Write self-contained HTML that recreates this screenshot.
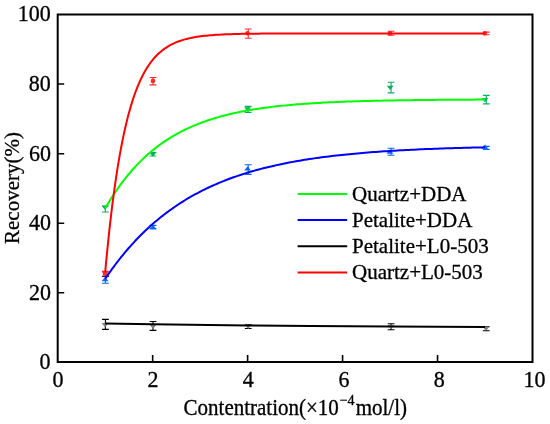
<!DOCTYPE html>
<html><head><meta charset="utf-8"><style>
html,body{margin:0;padding:0;background:#fff;}
body{width:550px;height:424px;overflow:hidden;}
svg{display:block;}
text{font-family:"Liberation Serif","Times New Roman",serif;fill:#000;stroke:#000;stroke-width:0.3px;}
</style></head><body>
<svg width="550" height="424" viewBox="0 0 550 424">
<g><path d="M105.40,319.40V329.40M102.00,319.40H108.80M102.00,329.40H108.80" stroke="#000" stroke-width="1.1" fill="none"/><polygon points="101.70,323.10 108.50,323.10 105.10,327.40" fill="#808080"/><path d="M153.01,321.50V330.40M149.61,321.50H156.41M149.61,330.40H156.41" stroke="#000" stroke-width="1.1" fill="none"/><polygon points="149.60,324.70 156.40,324.70 153.00,329.00" fill="#808080"/><path d="M248.23,324.60V328.50M244.83,324.60H251.63M244.83,328.50H251.63" stroke="#000" stroke-width="1.1" fill="none"/><polygon points="244.80,324.60 251.60,324.60 248.20,328.90" fill="#808080"/><path d="M391.06,323.80V329.70M387.66,323.80H394.46M387.66,329.70H394.46" stroke="#000" stroke-width="1.1" fill="none"/><polygon points="387.60,324.90 394.40,324.90 391.00,329.20" fill="#808080"/><path d="M486.28,326.70V330.70M482.88,326.70H489.68M482.88,330.70H489.68" stroke="#000" stroke-width="1.1" fill="none"/><polygon points="482.60,326.70 489.40,326.70 486.00,331.00" fill="#808080"/><path d="M105.40,276.40V283.20M102.00,276.40H108.80M102.00,283.20H108.80" stroke="#0a66e6" stroke-width="1.1" fill="none"/><polygon points="101.70,281.30 108.50,281.30 105.10,277.00" fill="#0a66e6"/><path d="M153.01,225.40V228.90M149.61,225.40H156.41M149.61,228.90H156.41" stroke="#0a66e6" stroke-width="1.1" fill="none"/><polygon points="149.60,229.10 156.40,229.10 153.00,224.80" fill="#0a66e6"/><path d="M248.23,164.80V174.40M244.83,164.80H251.63M244.83,174.40H251.63" stroke="#0a66e6" stroke-width="1.1" fill="none"/><polygon points="244.20,170.50 251.00,170.50 247.60,166.20" fill="#0a66e6"/><path d="M391.06,148.30V155.30M387.66,148.30H394.46M387.66,155.30H394.46" stroke="#0a66e6" stroke-width="1.1" fill="none"/><polygon points="386.60,153.70 393.40,153.70 390.00,149.40" fill="#0a66e6"/><path d="M486.28,146.40V149.40M482.88,146.40H489.68M482.88,149.40H489.68" stroke="#0a66e6" stroke-width="1.1" fill="none"/><polygon points="481.60,148.70 488.40,148.70 485.00,144.40" fill="#0a66e6"/><path d="M105.40,206.00V212.00M102.00,206.00H108.80M102.00,212.00H108.80" stroke="#0aae5e" stroke-width="1.1" fill="none"/><polygon points="101.60,205.70 108.40,205.70 105.00,210.00" fill="#0aae5e"/><path d="M153.01,152.50V156.00M149.61,152.50H156.41M149.61,156.00H156.41" stroke="#0aae5e" stroke-width="1.1" fill="none"/><polygon points="149.50,152.50 156.30,152.50 152.90,156.80" fill="#0aae5e"/><path d="M248.23,106.40V112.50M244.83,106.40H251.63M244.83,112.50H251.63" stroke="#0aae5e" stroke-width="1.1" fill="none"/><polygon points="244.20,107.30 251.00,107.30 247.60,111.60" fill="#0aae5e"/><path d="M391.06,82.30V92.90M387.66,82.30H394.46M387.66,92.90H394.46" stroke="#0aae5e" stroke-width="1.1" fill="none"/><polygon points="386.80,85.70 393.60,85.70 390.20,90.00" fill="#0aae5e"/><path d="M486.28,95.40V103.90M482.88,95.40H489.68M482.88,103.90H489.68" stroke="#0aae5e" stroke-width="1.1" fill="none"/><polygon points="481.60,97.90 488.40,97.90 485.00,102.20" fill="#0aae5e"/><path d="M105.40,271.20V276.40M102.00,271.20H108.80M102.00,276.40H108.80" stroke="#ff2a2a" stroke-width="1.1" fill="none"/><circle cx="105.10" cy="273.40" r="2.3" fill="#ff2a2a"/><path d="M153.01,77.50V84.90M149.61,77.50H156.41M149.61,84.90H156.41" stroke="#ff2a2a" stroke-width="1.1" fill="none"/><circle cx="153.00" cy="80.90" r="2.3" fill="#ff2a2a"/><path d="M248.23,29.00V38.20M244.83,29.00H251.63M244.83,38.20H251.63" stroke="#ff2a2a" stroke-width="1.1" fill="none"/><circle cx="247.50" cy="33.20" r="2.3" fill="#ff2a2a"/><path d="M391.06,31.20V35.20M387.66,31.20H394.46M387.66,35.20H394.46" stroke="#ff2a2a" stroke-width="1.1" fill="none"/><circle cx="389.80" cy="33.30" r="2.3" fill="#ff2a2a"/><path d="M486.28,32.10V34.70M482.88,32.10H489.68M482.88,34.70H489.68" stroke="#ff2a2a" stroke-width="1.1" fill="none"/><circle cx="484.80" cy="33.30" r="2.3" fill="#ff2a2a"/><polygon points="101.6,271.0 108.8,271.0 106.6,275.0 103.6,275.0" fill="#ff2a2a"/><path d="M101.9,276.4H108.9" stroke="#3a1a70" stroke-width="1.2"/><polyline points="105.2,323.6 152.7,324.35 190,324.85 248,325.4 310,325.9 390,326.5 485,326.9" fill="none" stroke="#000000" stroke-width="2" stroke-linejoin="round"/><polyline points="105.20,278.84 105.28,278.72 105.44,278.48 105.66,278.16 105.93,277.76 106.25,277.30 106.60,276.78 106.99,276.20 107.42,275.58 107.88,274.91 108.37,274.21 108.90,273.46 109.45,272.67 110.03,271.85 110.63,271.00 111.27,270.11 111.93,269.20 112.61,268.25 113.33,267.29 114.06,266.29 114.82,265.27 115.60,264.24 116.40,263.18 117.23,262.10 118.07,261.00 118.94,259.88 119.83,258.75 120.74,257.61 121.68,256.45 122.63,255.28 123.60,254.09 124.59,252.90 125.60,251.69 126.63,250.48 127.68,249.26 128.75,248.03 129.83,246.80 130.93,245.56 132.06,244.31 133.20,243.06 134.35,241.81 135.53,240.55 136.72,239.30 137.93,238.04 139.16,236.78 140.40,235.52 141.66,234.27 142.94,233.01 144.23,231.76 145.54,230.51 146.86,229.26 148.20,228.01 149.56,226.77 150.93,225.54 152.32,224.30 153.73,223.08 155.14,221.86 156.58,220.65 158.03,219.44 159.49,218.24 160.97,217.05 162.47,215.86 163.98,214.69 165.50,213.52 167.04,212.36 168.59,211.21 170.16,210.07 171.74,208.94 173.34,207.82 174.95,206.71 176.58,205.61 178.21,204.52 179.87,203.44 181.53,202.37 183.21,201.31 184.91,200.26 186.61,199.23 188.33,198.21 190.07,197.20 191.82,196.20 193.58,195.21 195.35,194.23 197.14,193.27 198.94,192.32 200.75,191.38 202.58,190.45 204.42,189.54 206.27,188.63 208.13,187.74 210.01,186.86 211.90,186.00 213.81,185.15 215.72,184.31 217.65,183.48 219.59,182.66 221.55,181.86 223.51,181.07 225.49,180.29 227.48,179.52 229.48,178.77 231.50,178.03 233.52,177.30 235.56,176.58 237.61,175.88 239.68,175.18 241.75,174.50 243.84,173.83 245.94,173.17 248.05,172.53 250.17,171.89 252.30,171.27 254.45,170.66 256.60,170.06 258.77,169.47 260.95,168.89 263.15,168.32 265.35,167.77 267.56,167.22 269.79,166.68 272.03,166.16 274.28,165.65 276.54,165.14 278.81,164.65 281.09,164.16 283.38,163.69 285.69,163.22 288.00,162.77 290.33,162.32 292.67,161.89 295.02,161.46 297.38,161.04 299.75,160.64 302.13,160.24 304.52,159.85 306.92,159.46 309.34,159.09 311.76,158.72 314.20,158.37 316.64,158.02 319.10,157.68 321.57,157.34 324.05,157.02 326.54,156.70 329.03,156.39 331.54,156.08 334.06,155.79 336.60,155.50 339.14,155.21 341.69,154.94 344.25,154.67 346.82,154.41 349.40,154.15 352.00,153.90 354.60,153.66 357.21,153.42 359.84,153.19 362.47,152.96 365.11,152.74 367.77,152.53 370.43,152.32 373.11,152.11 375.79,151.92 378.48,151.72 381.19,151.53 383.90,151.35 386.63,151.17 389.36,151.00 392.10,150.83 394.86,150.66 397.62,150.50 400.39,150.35 403.18,150.20 405.97,150.05 408.77,149.91 411.59,149.77 414.41,149.63 417.24,149.50 420.08,149.37 422.93,149.24 425.79,149.12 428.66,149.01 431.54,148.89 434.43,148.78 437.33,148.67 440.24,148.57 443.16,148.46 446.09,148.37 449.02,148.27 451.97,148.18 454.93,148.09 457.89,148.00 460.87,147.91 463.85,147.83 466.84,147.75 469.85,147.67 472.86,147.60 475.88,147.52 478.91,147.45 481.95,147.38 485.00,147.32" fill="none" stroke="#0000ff" stroke-width="2" stroke-linejoin="round"/><polyline points="105.20,208.38 105.28,208.24 105.44,207.96 105.66,207.58 105.93,207.11 106.25,206.57 106.60,205.96 106.99,205.30 107.42,204.58 107.88,203.80 108.37,202.98 108.90,202.12 109.45,201.21 110.03,200.27 110.63,199.29 111.27,198.28 111.93,197.24 112.61,196.18 113.33,195.08 114.06,193.96 114.82,192.82 115.60,191.66 116.40,190.48 117.23,189.28 118.07,188.07 118.94,186.84 119.83,185.61 120.74,184.36 121.68,183.10 122.63,181.83 123.60,180.56 124.59,179.28 125.60,178.00 126.63,176.71 127.68,175.42 128.75,174.13 129.83,172.85 130.93,171.56 132.06,170.27 133.20,168.99 134.35,167.71 135.53,166.44 136.72,165.17 137.93,163.91 139.16,162.65 140.40,161.40 141.66,160.16 142.94,158.93 144.23,157.71 145.54,156.50 146.86,155.30 148.20,154.11 149.56,152.93 150.93,151.77 152.32,150.62 153.73,149.48 155.14,148.35 156.58,147.24 158.03,146.14 159.49,145.05 160.97,143.98 162.47,142.93 163.98,141.88 165.50,140.86 167.04,139.85 168.59,138.85 170.16,137.87 171.74,136.91 173.34,135.96 174.95,135.03 176.58,134.11 178.21,133.21 179.87,132.33 181.53,131.46 183.21,130.61 184.91,129.77 186.61,128.95 188.33,128.14 190.07,127.36 191.82,126.58 193.58,125.82 195.35,125.08 197.14,124.36 198.94,123.65 200.75,122.95 202.58,122.27 204.42,121.60 206.27,120.95 208.13,120.32 210.01,119.69 211.90,119.09 213.81,118.49 215.72,117.92 217.65,117.35 219.59,116.80 221.55,116.26 223.51,115.74 225.49,115.23 227.48,114.73 229.48,114.24 231.50,113.77 233.52,113.31 235.56,112.86 237.61,112.42 239.68,112.00 241.75,111.58 243.84,111.18 245.94,110.79 248.05,110.41 250.17,110.04 252.30,109.68 254.45,109.33 256.60,108.99 258.77,108.66 260.95,108.34 263.15,108.03 265.35,107.73 267.56,107.44 269.79,107.15 272.03,106.88 274.28,106.61 276.54,106.35 278.81,106.10 281.09,105.86 283.38,105.62 285.69,105.39 288.00,105.17 290.33,104.96 292.67,104.75 295.02,104.55 297.38,104.36 299.75,104.17 302.13,103.99 304.52,103.82 306.92,103.65 309.34,103.48 311.76,103.33 314.20,103.17 316.64,103.03 319.10,102.88 321.57,102.75 324.05,102.61 326.54,102.48 329.03,102.36 331.54,102.24 334.06,102.13 336.60,102.02 339.14,101.91 341.69,101.81 344.25,101.71 346.82,101.61 349.40,101.52 352.00,101.43 354.60,101.34 357.21,101.26 359.84,101.18 362.47,101.11 365.11,101.03 367.77,100.96 370.43,100.89 373.11,100.83 375.79,100.76 378.48,100.70 381.19,100.65 383.90,100.59 386.63,100.54 389.36,100.48 392.10,100.44 394.86,100.39 397.62,100.34 400.39,100.30 403.18,100.26 405.97,100.22 408.77,100.18 411.59,100.14 414.41,100.10 417.24,100.07 420.08,100.04 422.93,100.01 425.79,99.98 428.66,99.95 431.54,99.92 434.43,99.89 437.33,99.87 440.24,99.84 443.16,99.82 446.09,99.80 449.02,99.78 451.97,99.76 454.93,99.74 457.89,99.72 460.87,99.70 463.85,99.68 466.84,99.67 469.85,99.65 472.86,99.63 475.88,99.62 478.91,99.61 481.95,99.59 485.00,99.58" fill="none" stroke="#00ff00" stroke-width="2" stroke-linejoin="round"/><polyline points="105.20,272.16 105.28,271.28 105.44,269.50 105.66,267.10 105.93,264.19 106.25,260.86 106.60,257.15 106.99,253.13 107.42,248.82 107.88,244.28 108.37,239.52 108.90,234.59 109.45,229.51 110.03,224.31 110.63,219.01 111.27,213.64 111.93,208.21 112.61,202.74 113.33,197.26 114.06,191.78 114.82,186.32 115.60,180.89 116.40,175.50 117.23,170.17 118.07,164.90 118.94,159.71 119.83,154.61 120.74,149.60 121.68,144.70 122.63,139.90 123.60,135.21 124.59,130.64 125.60,126.20 126.63,121.88 127.68,117.68 128.75,113.62 129.83,109.69 130.93,105.88 132.06,102.21 133.20,98.68 134.35,95.27 135.53,91.99 136.72,88.85 137.93,85.83 139.16,82.93 140.40,80.16 141.66,77.51 142.94,74.98 144.23,72.57 145.54,70.26 146.86,68.07 148.20,65.99 149.56,64.00 150.93,62.12 152.32,60.33 153.73,58.64 155.14,57.03 156.58,55.52 158.03,54.08 159.49,52.73 160.97,51.45 162.47,50.24 163.98,49.11 165.50,48.04 167.04,47.04 168.59,46.09 170.16,45.21 171.74,44.37 173.34,43.59 174.95,42.86 176.58,42.18 178.21,41.54 179.87,40.95 181.53,40.39 183.21,39.87 184.91,39.38 186.61,38.93 188.33,38.51 190.07,38.12 191.82,37.76 193.58,37.42 195.35,37.10 197.14,36.81 198.94,36.54 200.75,36.29 202.58,36.06 204.42,35.85 206.27,35.65 208.13,35.47 210.01,35.30 211.90,35.14 213.81,35.00 215.72,34.87 217.65,34.74 219.59,34.63 221.55,34.53 223.51,34.44 225.49,34.35 227.48,34.27 229.48,34.20 231.50,34.13 233.52,34.07 235.56,34.01 237.61,33.96 239.68,33.91 241.75,33.87 243.84,33.83 245.94,33.79 248.05,33.76 250.17,33.73 252.30,33.70 254.45,33.68 256.60,33.66 258.77,33.64 260.95,33.62 263.15,33.60 265.35,33.59 267.56,33.57 269.79,33.56 272.03,33.55 274.28,33.54 276.54,33.53 278.81,33.52 281.09,33.51 283.38,33.50 285.69,33.50 288.00,33.49 290.33,33.49 292.67,33.48 295.02,33.48 297.38,33.47 299.75,33.47 302.13,33.47 304.52,33.47 306.92,33.46 309.34,33.46 311.76,33.46 314.20,33.46 316.64,33.46 319.10,33.45 321.57,33.45 324.05,33.45 326.54,33.45 329.03,33.45 331.54,33.45 334.06,33.45 336.60,33.45 339.14,33.45 341.69,33.45 344.25,33.45 346.82,33.45 349.40,33.45 352.00,33.44 354.60,33.44 357.21,33.44 359.84,33.44 362.47,33.44 365.11,33.44 367.77,33.44 370.43,33.44 373.11,33.44 375.79,33.44 378.48,33.44 381.19,33.44 383.90,33.44 386.63,33.44 389.36,33.44 392.10,33.44 394.86,33.44 397.62,33.44 400.39,33.44 403.18,33.44 405.97,33.44 408.77,33.44 411.59,33.44 414.41,33.44 417.24,33.44 420.08,33.44 422.93,33.44 425.79,33.44 428.66,33.44 431.54,33.44 434.43,33.44 437.33,33.44 440.24,33.44 443.16,33.44 446.09,33.44 449.02,33.44 451.97,33.44 454.93,33.44 457.89,33.44 460.87,33.44 463.85,33.44 466.84,33.44 469.85,33.44 472.86,33.44 475.88,33.44 478.91,33.44 481.95,33.44 485.00,33.44" fill="none" stroke="#ff0000" stroke-width="2" stroke-linejoin="round"/></g>
<rect x="57.7" y="14.5" width="474.8" height="347.5" fill="none" stroke="#000" stroke-width="2"/>
<path d="M152.66,362V355 M247.62,362V355 M342.58,362V355 M437.54,362V355 M57.7,84.00H64.2 M57.7,153.70H64.2 M57.7,223.20H64.2 M57.7,292.70H64.2" stroke="#000" stroke-width="1.6" fill="none"/>
<g font-size="22"><text transform="translate(57.90,386.6) scale(1,1.09)" text-anchor="middle">0</text><text transform="translate(153.00,386.6) scale(1,1.09)" text-anchor="middle">2</text><text transform="translate(248.30,386.6) scale(1,1.09)" text-anchor="middle">4</text><text transform="translate(344.00,386.6) scale(1,1.09)" text-anchor="middle">6</text><text transform="translate(439.20,386.6) scale(1,1.09)" text-anchor="middle">8</text><text transform="translate(534.60,386.6) scale(1,1.09)" text-anchor="middle">10</text><text transform="translate(50.80,20.90) scale(1,1.09)" text-anchor="end">100</text><text transform="translate(50.80,90.60) scale(1,1.09)" text-anchor="end">80</text><text transform="translate(50.90,160.60) scale(1,1.09)" text-anchor="end">60</text><text transform="translate(50.90,230.10) scale(1,1.09)" text-anchor="end">40</text><text transform="translate(50.90,299.60) scale(1,1.09)" text-anchor="end">20</text><text transform="translate(50.60,369.30) scale(1,1.09)" text-anchor="end">0</text></g>
<g font-size="21"><line x1="297.6" y1="194.0" x2="347.2" y2="194.0" stroke="#00ff00" stroke-width="1.9"/><text transform="translate(352,200.70) ">Quartz+DDA</text><line x1="297.6" y1="220.0" x2="347.2" y2="220.0" stroke="#0000ff" stroke-width="1.9"/><text transform="translate(352,227.10) ">Petalite+DDA</text><line x1="297.6" y1="246.3" x2="347.2" y2="246.3" stroke="#000000" stroke-width="1.9"/><text transform="translate(352,253.10) ">Petalite+L0-503</text><line x1="297.6" y1="272.5" x2="347.2" y2="272.5" stroke="#ff0000" stroke-width="1.9"/><text transform="translate(352,279.40) ">Quartz+L0-503</text></g>
<text x="19.1" y="188" font-size="21" text-anchor="middle" transform="rotate(-90 19.1 188)">Recovery(%)</text>
<text transform="translate(295.3,414.9) scale(1,1.07)" font-size="21" text-anchor="middle">Contentration(×10<tspan font-size="14" dx="0.8" dy="-9">−4</tspan><tspan dx="1.2" dy="9">mol/l)</tspan></text>
</svg>
</body></html>
